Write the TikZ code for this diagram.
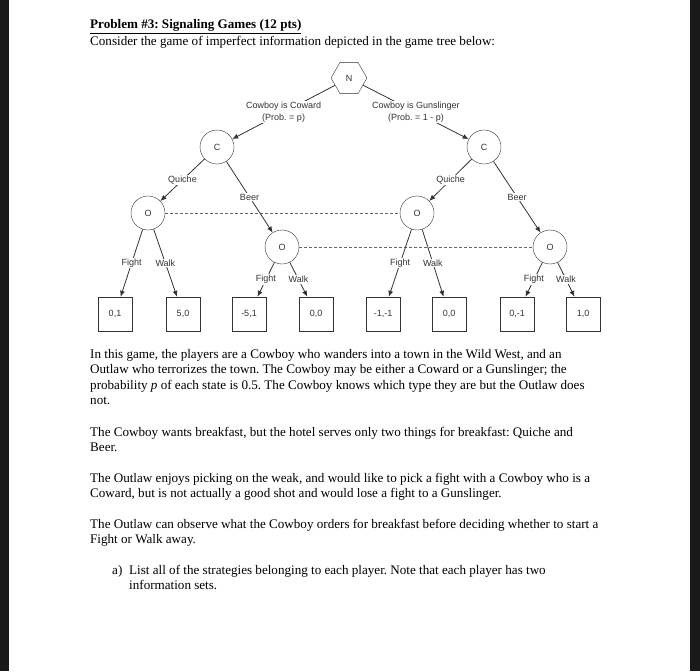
\documentclass[tikz,border=0pt]{standalone}
\usepackage{fontspec}
\setmainfont{Liberation Serif}
\newfontfamily\diafont{Liberation Sans}
\usetikzlibrary{arrows.meta,shapes.geometric}
\frenchspacing

\begin{document}
\begin{tikzpicture}[x=1pt,y=-1pt,
    every node/.style={font=\diafont\fontsize{9}{12}\selectfont,text=black!80},
    chance/.style={regular polygon,regular polygon sides=6,draw=black!80,
                   minimum size=36pt,inner sep=0pt},
    dec/.style   ={circle,draw=black!80,minimum size=34pt,inner sep=0pt},
    pay/.style   ={rectangle,draw=black!80,minimum size=34pt,inner sep=0pt},
    arr/.style   ={-{Latex[length=6pt,width=5pt]},black!80,line width=0.8pt},
    lbl/.style   ={fill=white,inner sep=1pt,align=center},
    infoset/.style={black!60,line width=0.8pt,dash pattern=on 3pt off 2pt},
    body/.style  ={font=\fontsize{13.1}{15.5}\selectfont,text=black,
                   anchor=base west,align=left,inner sep=0pt},
  ]
  \useasboundingbox (0,0) rectangle (700,671);
  % dark margins of the scan
  \fill[black!90] (0,0) rectangle (9,671);
  \fill[black!90] (690,0) rectangle (700,671);

  % Heading
  \node[body] (title) at (90,29) {\textbf{\underline{Problem \#3: Signaling Games (12 pts)}}};
  \node[body] (intro) at (90,46) {Consider the game of imperfect information depicted in the game tree below:};

  % Nature and the two Cowboy types
  \node[chance] (N)  at (349,78)  {N};
  \node[dec]    (C1) at (217,147) {C};
  \node[dec]    (C2) at (484,147) {C};

  % Outlaw nodes
  \node[dec] (O1) at (148,213) {O};
  \node[dec] (O2) at (282,247) {O};
  \node[dec] (O3) at (417,213) {O};
  \node[dec] (O4) at (550,247) {O};

  % Payoffs
  \node[pay] (P1) at (115,314) {0,1};
  \node[pay] (P2) at (183,314) {5,0};
  \node[pay] (P3) at (249,314) {-5,1};
  \node[pay] (P4) at (316,314) {0,0};
  \node[pay] (P5) at (383,314) {-1,-1};
  \node[pay] (P6) at (449,314) {0,0};
  \node[pay] (P7) at (517,314) {0,-1};
  \node[pay] (P8) at (583,314) {1,0};

  % Information sets of the Outlaw
  \draw[infoset] (O1) -- (O3);
  \draw[infoset] (O2) -- (O4);

  % Moves of Nature
  \draw[arr] (N) -- node[lbl]{Cowboy is Coward\\(Prob. = p)} (C1);
  \draw[arr] (N) -- node[lbl]{Cowboy is Gunslinger\\(Prob. = 1 - p)} (C2);

  % Moves of the Cowboy
  \draw[arr] (C1) -- node[lbl]{Quiche} (O1);
  \draw[arr] (C1) -- node[lbl]{Beer} (O2);
  \draw[arr] (C2) -- node[lbl]{Quiche} (O3);
  \draw[arr] (C2) -- node[lbl]{Beer} (O4);

  % Moves of the Outlaw
  \draw[arr] (O1) -- node[lbl]{Fight} (P1);
  \draw[arr] (O1) -- node[lbl]{Walk}  (P2);
  \draw[arr] (O2) -- node[lbl]{Fight} (P3);
  \draw[arr] (O2) -- node[lbl]{Walk}  (P4);
  \draw[arr] (O3) -- node[lbl]{Fight} (P5);
  \draw[arr] (O3) -- node[lbl]{Walk}  (P6);
  \draw[arr] (O4) -- node[lbl]{Fight} (P7);
  \draw[arr] (O4) -- node[lbl]{Walk}  (P8);

  % Problem text (anchored at the baseline of each paragraph's last line)
  \node[body] (para1) at (90,404.5) {In this game, the players are a Cowboy who wanders into a town in the Wild West, and an\\
    Outlaw who terrorizes the town. The Cowboy may be either a Coward or a Gunslinger; the\\
    probability \textit{p} of each state is 0.5. The Cowboy knows which type they are but the Outlaw does\\
    not.};
  \node[body] (para2) at (90,451.5) {The Cowboy wants breakfast, but the hotel serves only two things for breakfast: Quiche and\\
    Beer.};
  \node[body] (para3) at (90,497.5) {The Outlaw enjoys picking on the weak, and would like to pick a fight with a Cowboy who is a\\
    Coward, but is not actually a good shot and would lose a fight to a Gunslinger.};
  \node[body] (para4) at (90,543.5) {The Outlaw can observe what the Cowboy orders for breakfast before deciding whether to start a\\
    Fight or Walk away.};
  \node[body] (itema) at (112,574) {a)};
  \node[body] (qa)    at (129,589.5) {List all of the strategies belonging to each player. Note that each player has two\\
    information sets.};
\end{tikzpicture}
\end{document}
